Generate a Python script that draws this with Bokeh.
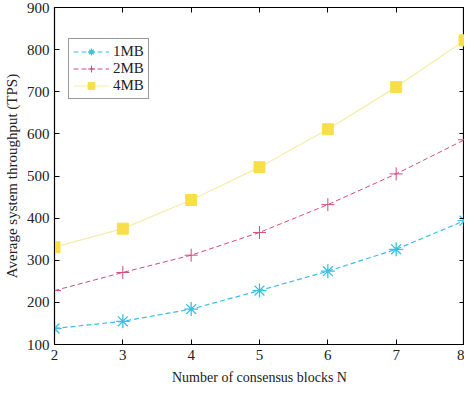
from bokeh.plotting import figure
from bokeh.models import Range1d, LinearAxis, Legend, LegendItem, FixedTicker
from bokeh.embed import file_html
from bokeh.resources import INLINE

blocks = [2, 3, 4, 5, 6, 7, 8]
tps_1mb = [138, 155, 184, 228, 274, 326, 394]
tps_2mb = [228, 271, 312, 366, 432, 505, 586]
tps_4mb = [331, 375, 443, 521, 611, 711, 822]
x_ticks = [2, 3, 4, 5, 6, 7, 8]
y_ticks = [100, 200, 300, 400, 500, 600, 700, 800, 900]

FONT = "Liberation Serif"

p = figure(width=464, height=387, output_backend="svg", toolbar_location=None,
           x_range=Range1d(2, 8), y_range=Range1d(100, 900),
           min_border_left=0, min_border_right=0, min_border_top=7, min_border_bottom=0)
p.outline_line_color = "black"
p.outline_line_width = 1.2
p.grid.visible = False
p.background_fill_color = "white"

for ax in (p.xaxis[0], p.yaxis[0]):
    ax.major_tick_in = 5
    ax.major_tick_out = 0
    ax.minor_tick_line_color = None
    ax.axis_line_color = "black"
    ax.major_tick_line_color = "black"
    ax.major_label_text_font = FONT
    ax.major_label_text_font_size = "15px"
    ax.major_label_text_color = "#222222"
    ax.axis_label_text_font = FONT
    ax.axis_label_text_font_style = "normal"
    ax.axis_label_text_color = "#222222"

p.xaxis[0].ticker = FixedTicker(ticks=x_ticks)
p.yaxis[0].ticker = FixedTicker(ticks=y_ticks)
p.xaxis[0].axis_label = "Number of consensus blocks N"
p.yaxis[0].axis_label = "Average system throughput (TPS)"
p.xaxis[0].axis_label_text_font_size = "14px"
p.yaxis[0].axis_label_text_font_size = "15px"
p.xaxis[0].major_label_standoff = 5
p.yaxis[0].major_label_standoff = 5
p.xaxis[0].axis_label_standoff = 7
p.yaxis[0].axis_label_standoff = 4

top = LinearAxis(ticker=FixedTicker(ticks=x_ticks), major_tick_in=5, major_tick_out=0,
                 minor_tick_line_color=None, major_label_overrides={t: "" for t in x_ticks},
                 major_label_standoff=0, axis_line_color="black")
right = LinearAxis(ticker=FixedTicker(ticks=y_ticks), major_tick_in=5, major_tick_out=0,
                   minor_tick_line_color=None, major_label_overrides={t: "" for t in y_ticks},
                   major_label_standoff=0, axis_line_color="black")
p.add_layout(top, "above")
p.add_layout(right, "right")

c1, c2, c3 = "#3cbfe2", "#d44a80", "#f7df4a"
l1 = p.line(blocks, tps_1mb, line_color=c1, line_width=1.2, line_dash="5 3")
m1 = p.scatter(blocks, tps_1mb, marker="asterisk", size=14, line_color=c1, line_width=1.3)
l2 = p.line(blocks, tps_2mb, line_color=c2, line_width=1.0, line_dash="5 3")
m2 = p.scatter(blocks, tps_2mb, marker="cross", size=13, line_color=c2, line_width=1.0)
l3 = p.line(blocks, tps_4mb, line_color="#f3eea8", line_width=1.2)
m3 = p.scatter(blocks, tps_4mb, marker="square", size=11, fill_color=c3, line_color=c3)

legend = Legend(items=[LegendItem(label="1MB", renderers=[l1, m1]),
                       LegendItem(label="2MB", renderers=[l2, m2]),
                       LegendItem(label="4MB", renderers=[l3, m3])],
                location=(14, 245))
legend.label_text_font = FONT
legend.label_text_font_size = "15px"
legend.label_text_color = "#222222"
legend.border_line_color = "#333333"
legend.border_line_width = 1
legend.glyph_width = 36
legend.glyph_height = 17
legend.spacing = 0
legend.padding = 4
legend.margin = 0
legend.label_standoff = 4
legend.label_height = 17
p.add_layout(legend)

open("out.html", "w").write(file_html(p, INLINE))
